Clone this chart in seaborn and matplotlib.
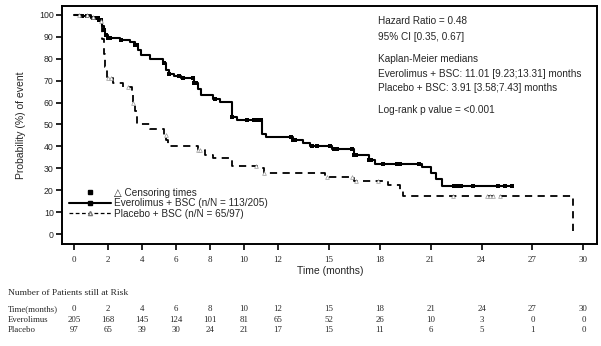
import numpy as np
import pandas as pd
import matplotlib
matplotlib.use("Agg")
import matplotlib.pyplot as plt
from matplotlib.lines import Line2D
from matplotlib.transforms import blended_transform_factory
import seaborn as sns

# ---------------- data ----------------
evr_time = [0, 0.5, 1.0, 1.5, 1.65, 1.75, 1.85, 2.0, 2.7, 3.3, 3.6, 3.8, 3.95, 4.5,
            5.25, 5.4, 5.6, 5.9, 6.3, 7.05, 7.3, 7.5, 8.2, 8.6, 9.3, 9.6, 11.05, 11.3,
            12.9, 13.5, 13.9, 15.2, 16.5, 17.4, 17.7, 20.5, 21.0, 21.3, 21.7, 25.8]
evr_surv = [100, 99.5, 98.5, 97.5, 95, 93, 91, 89.5, 88.5, 87.5, 86, 84, 81.5, 80,
            78, 75, 73, 72, 71, 69, 66, 63.5, 61.6, 60.3, 53.5, 52, 45.6, 44.5,
            43, 41.5, 40.3, 39, 36, 34, 32, 30.8, 28, 25, 22, 22]
evr_censor = [0.5, 0.8, 1.1, 1.2, 1.3, 1.4, 1.5, 1.6, 1.8, 1.9, 2.0, 2.1, 2.8, 3.6, 3.7,
              5.3, 5.6, 6.2, 6.4, 7.0, 7.1, 7.2, 8.3, 9.3, 10.2, 10.6, 10.8, 10.9, 11.0,
              12.8, 12.9, 13.0, 14.0, 14.3, 15.1, 15.3, 15.5, 16.4, 16.5, 16.6, 17.4,
              17.5, 18.2, 19.0, 19.2, 20.3, 22.4, 22.5, 22.6, 22.8, 23.5, 25.0, 25.4, 25.8]

pla_time = [0, 1.0, 1.5, 1.65, 1.75, 1.85, 1.95, 2.3, 2.9, 3.4, 3.5, 3.6, 3.7, 4.5,
            5.3, 5.45, 5.55, 7.3, 7.7, 8.2, 9.3, 10.8, 11.2, 14.8, 16.5, 18.5, 19.2,
            19.4, 29.4]
pla_surv = [100, 99, 97, 89, 82, 76, 71, 69, 67, 65, 60, 56, 50, 48,
            45, 43, 40, 38.5, 36, 34.7, 31, 30, 28, 26, 24.3, 22.5, 20,
            17.4, 0]
pla_censor = [0.3, 0.8, 1.1, 1.6, 2.0, 2.2, 3.2, 3.5, 5.4, 7.3, 7.4, 10.7, 11.2, 14.9,
              16.4, 16.6, 17.9, 22.3, 24.3, 24.5, 24.7, 25.1]

x_ticks = [0, 2, 4, 6, 8, 10, 12, 15, 18, 21, 24, 27, 30]
y_ticks = [0, 10, 20, 30, 40, 50, 60, 70, 80, 90, 100]
risk_evr = [205, 168, 145, 124, 101, 81, 65, 52, 26, 10, 3, 0, 0]
risk_pla = [97, 65, 39, 30, 24, 21, 17, 15, 11, 6, 5, 1, 0]

stats_lines = ["Hazard Ratio = 0.48", "95% CI [0.35, 0.67]", "Kaplan-Meier medians",
               "Everolimus + BSC: 11.01 [9.23;13.31] months",
               "Placebo + BSC: 3.91 [3.58;7.43] months",
               "Log-rank p value = <0.001"]


def step_at(times, surv, pts):
    t = np.asarray(times)
    s = np.asarray(surv)
    idx = np.searchsorted(t, np.asarray(pts), side="right") - 1
    return s[idx]


evr_df = pd.DataFrame({"t": evr_time, "s": evr_surv})
pla_df = pd.DataFrame({"t": pla_time, "s": pla_surv})
evr_c = pd.DataFrame({"t": evr_censor, "s": step_at(evr_time, evr_surv, evr_censor)})
pla_c = pd.DataFrame({"t": pla_censor, "s": step_at(pla_time, pla_surv, pla_censor)})

# ---------------- style ----------------
sns.set_style("ticks")
plt.rcParams["font.family"] = ["Liberation Sans", "DejaVu Sans"]

W, H = 601, 346
fig = plt.figure(figsize=(W / 100, H / 100), dpi=100)
ax_l, ax_r, ax_t, ax_b = 62, 597, 6, 244
ax = fig.add_axes([ax_l / W, 1 - ax_b / H, (ax_r - ax_l) / W, (ax_b - ax_t) / H])

sns.lineplot(data=pla_df, x="t", y="s", ax=ax, drawstyle="steps-post", estimator=None,
             sort=False, color="black", linewidth=1.3, linestyle=(0, (4, 3)))
sns.lineplot(data=evr_df, x="t", y="s", ax=ax, drawstyle="steps-post", estimator=None,
             sort=False, color="black", linewidth=1.5)
sns.scatterplot(data=evr_c, x="t", y="s", ax=ax, marker="s", s=10, color="black",
                linewidth=0, zorder=5)
sns.scatterplot(data=pla_c, x="t", y="s", ax=ax, marker="^", s=7, facecolor="white",
                edgecolor="#999999", linewidth=0.5, zorder=5)

ax.set_xlim(-0.7, 30.8)
ax.set_ylim(-4.5, 104)
ax.set_xticks(x_ticks)
ax.set_xticklabels([str(v) for v in x_ticks], fontfamily="Liberation Serif", fontsize=6.5)
ax.set_yticks(y_ticks)
ax.set_yticklabels([str(v) for v in y_ticks], fontsize=6.3)
ax.tick_params(axis="x", length=4, width=1.2, pad=4.5, color="black")
ax.tick_params(axis="y", length=4, width=1.2, pad=2, color="black")
for sp in ax.spines.values():
    sp.set_visible(True)
    sp.set_linewidth(1.4)
    sp.set_color("black")

ax.set_xlabel("Time (months)", fontsize=7.5)
ax.set_ylabel("Probability (%) of event", fontsize=7.5)
ax.xaxis.set_label_coords(0.501, -0.092)
ax.yaxis.set_label_coords(-0.068, 0.5)

# legend
handles = [
    Line2D([], [], marker="s", linestyle="none", color="black", markersize=3.2),
    Line2D([], [], marker="s", linestyle="-", color="black", linewidth=1.5, markersize=3),
    Line2D([], [], marker="^", linestyle=(0, (3, 2)), color="black", linewidth=0.9,
           markersize=3, markerfacecolor="white", markeredgecolor="#777777"),
]
labels = ["\u25b3 Censoring times", "Everolimus + BSC (n/N = 113/205)",
          "Placebo + BSC (n/N = 65/97)"]
leg = ax.legend(handles, labels, loc="upper left", bbox_to_anchor=(0.0, 0.265),
                frameon=False, fontsize=7.2, handlelength=4.2, handletextpad=0.3,
                labelspacing=0.05, borderaxespad=0.3)

# statistics text block
stat_y = [21, 37, 59, 74, 88, 110]
for txt, yp in zip(stats_lines, stat_y):
    fig.text(378 / W, 1 - yp / H, txt, fontsize=7.2, va="center", ha="left")

# number at risk table
serif = ["Liberation Serif", "DejaVu Serif"]
fig.text(8 / W, 1 - 293 / H, "Number of Patients still at Risk", fontsize=6.8,
         family=serif, va="center")
tr = blended_transform_factory(ax.transData, fig.transFigure)
rows = [("Time(months)", x_ticks, 309), ("Everolimus", risk_evr, 320),
        ("Placebo", risk_pla, 330)]
for name, vals, yp in rows:
    fig.text(8 / W, 1 - yp / H, name, fontsize=6.3, family=serif, va="center")
    for xv, v in zip(x_ticks, vals):
        ax.text(xv, 1 - yp / H, str(v), transform=tr, fontsize=6.3, family=serif,
                ha="center", va="center", clip_on=False)

fig.savefig("out.png", dpi=100)
